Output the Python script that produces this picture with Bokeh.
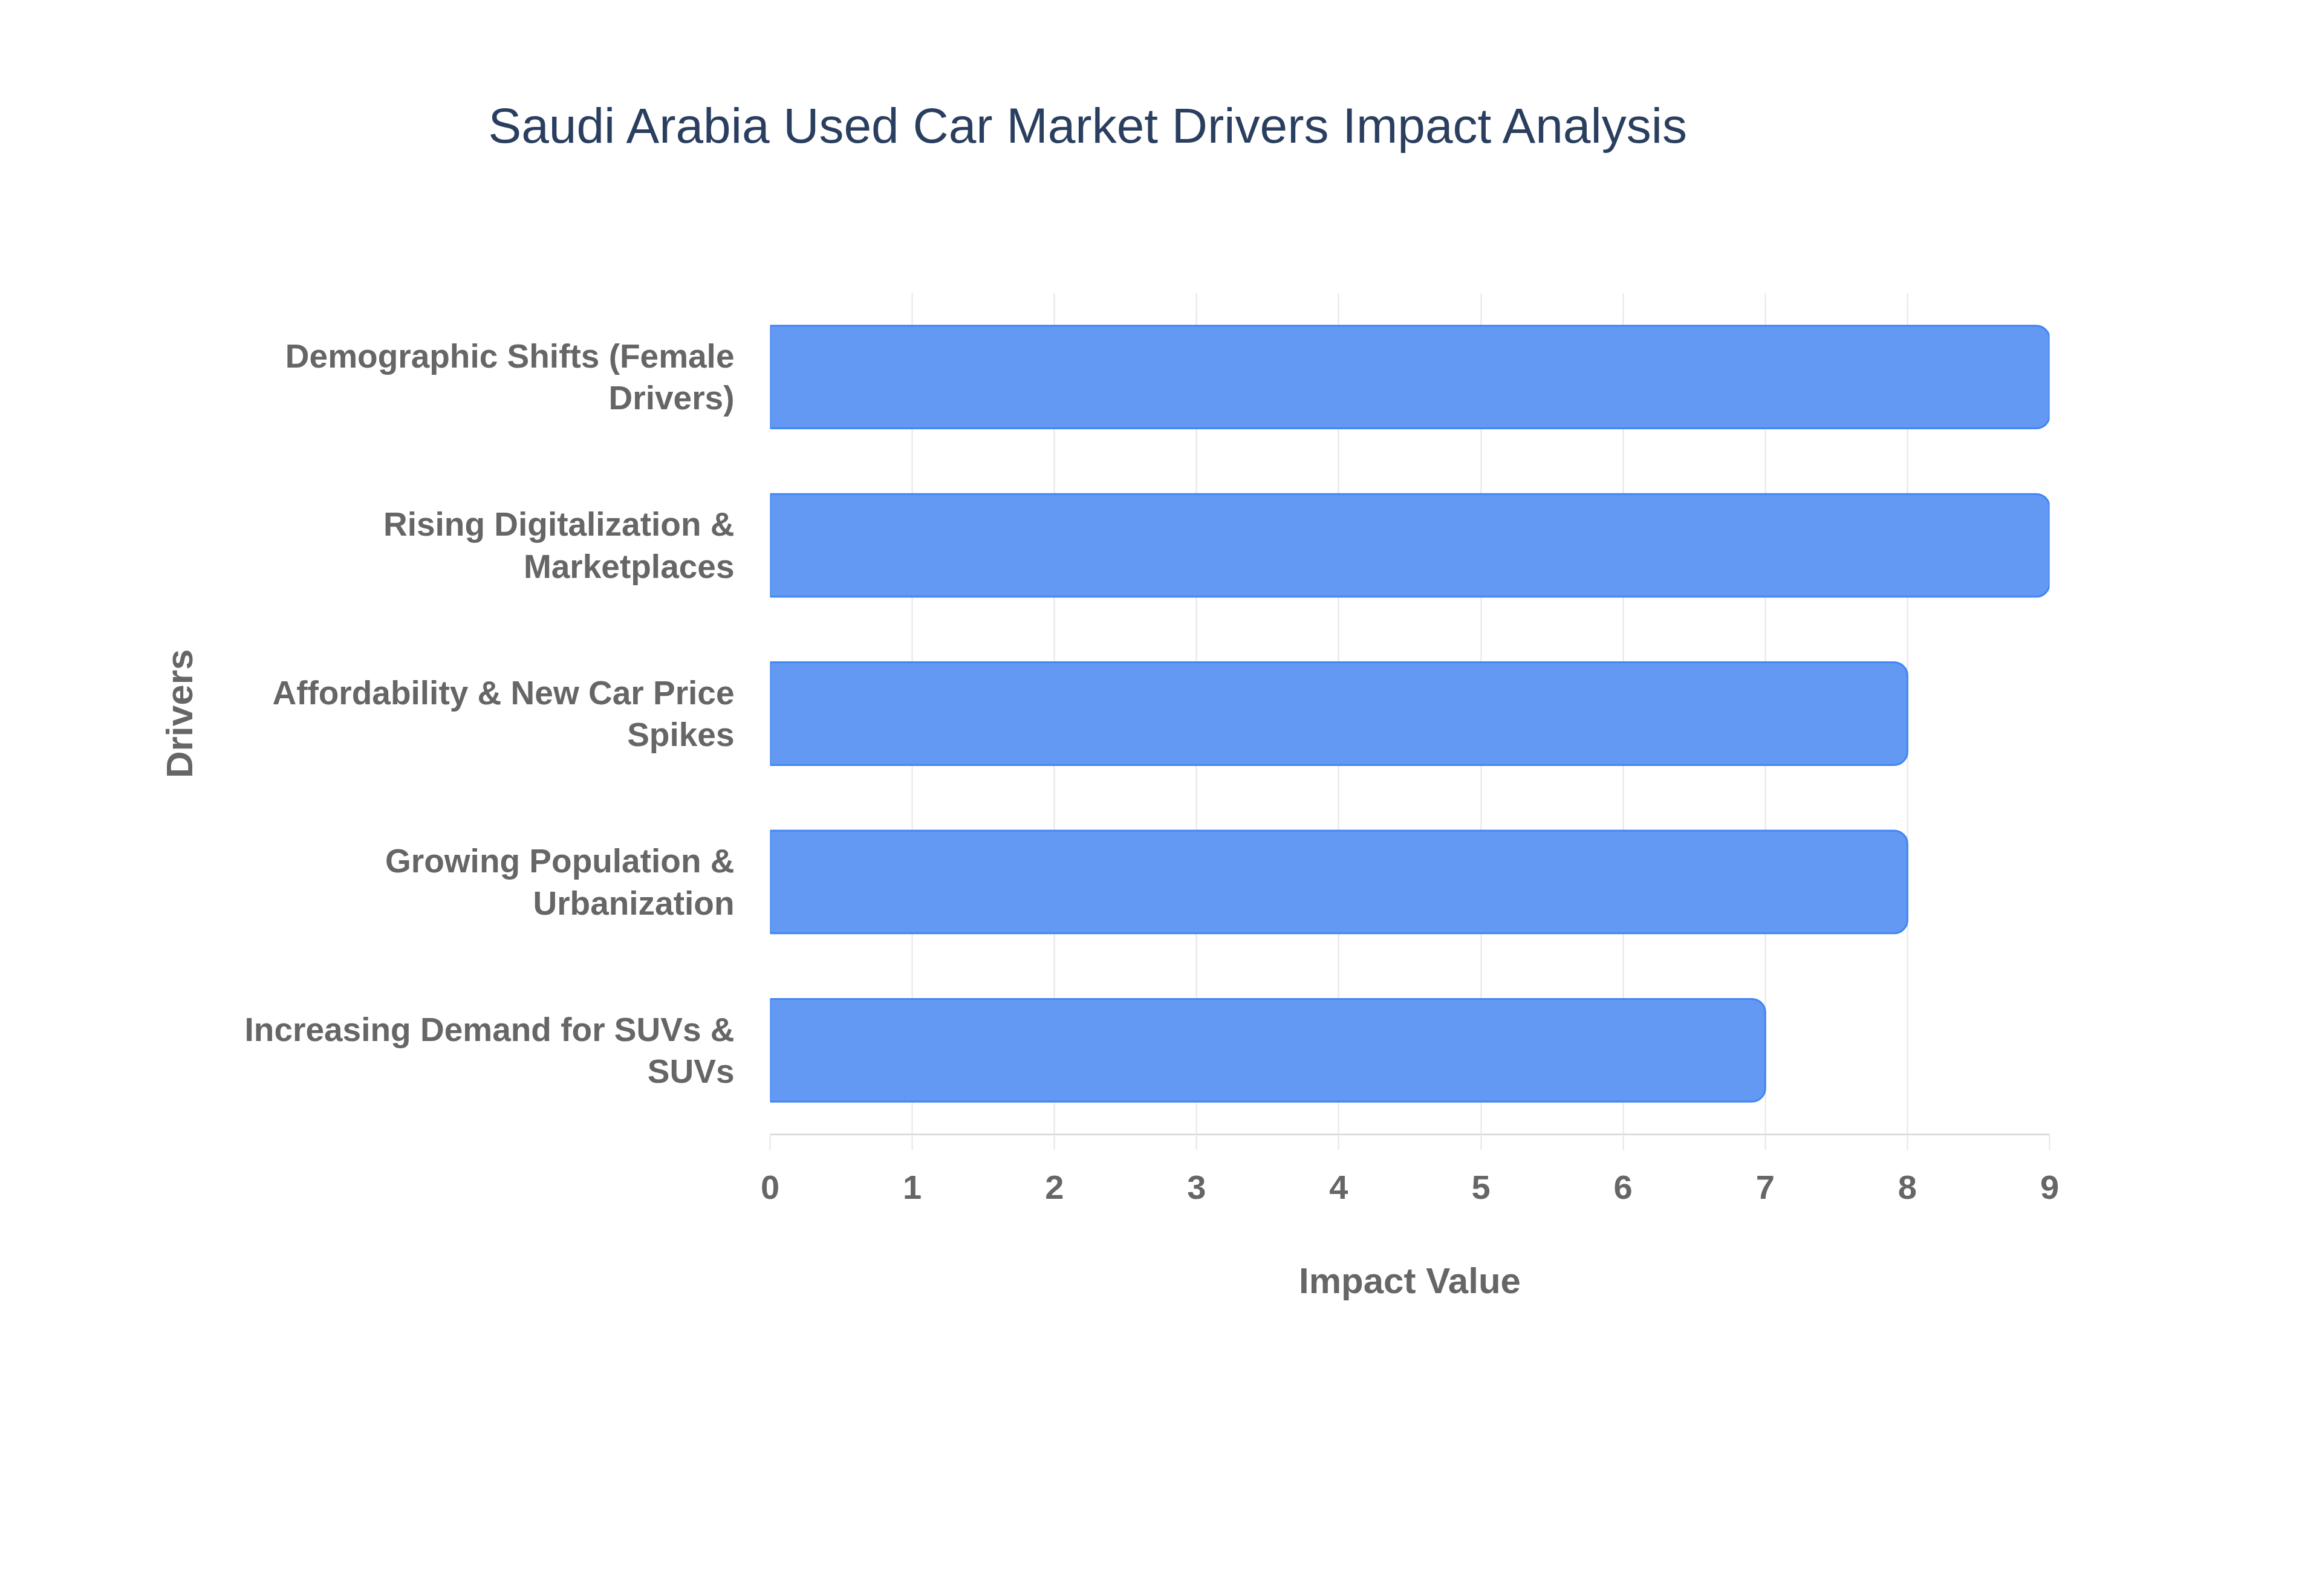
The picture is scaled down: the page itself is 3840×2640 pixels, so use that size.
from bokeh.plotting import figure
from bokeh.models import FactorRange, Range1d, FixedTicker, Title
from bokeh.embed import file_html
from bokeh.resources import INLINE

# ---- data ----
drivers = [
    "Demographic Shifts (Female\nDrivers)",
    "Rising Digitalization &\nMarketplaces",
    "Affordability & New Car Price\nSpikes",
    "Growing Population &\nUrbanization",
    "Increasing Demand for SUVs &\nSUVs",
]
impact = [9, 9, 8, 8, 7]
x_ticks = [0, 1, 2, 3, 4, 5, 6, 7, 8, 9]
title_text = "Saudi Arabia Used Car Market Drivers Impact Analysis"

# ---- layout (page pixels) ----
FL, FW, FT, FH = 1273, 2116, 484, 1392
W, H = 3824, 2624

p = figure(
    frame_width=FW, frame_height=FH,
    min_border_left=FL, min_border_right=W - FL - FW,
    min_border_top=FT, min_border_bottom=H - FT - FH,
    y_range=FactorRange(factors=list(reversed(drivers))),
    x_range=Range1d(0, 9),
    title_location=None,
    output_backend="svg", toolbar_location=None,
)
p.outline_line_color = None
p.background_fill_color = "white"
p.border_fill_color = "white"

p.hbar(y=drivers, left=0, right=impact, height=0.61,
       fill_color="#6399F3", line_color="#4285F4", line_width=3,
       border_radius=(0, 22, 22, 0))

# spacer between frame and title (closest to the frame), then the title
p.add_layout(Title(text=" ", text_font_size="10px", standoff=214), "above")
p.add_layout(Title(
    text=title_text, align="left", offset=807 - FL, standoff=10,
    text_font="Liberation Sans", text_font_style="normal",
    text_font_size="82px", text_color="#2a3f5f",
), "above")

# grid
p.xgrid.ticker = FixedTicker(ticks=x_ticks)
p.xgrid.grid_line_color = "#e6e6e6"
p.xgrid.grid_line_width = 2
p.ygrid.grid_line_color = None

# x axis
xa = p.xaxis[0]
xa.ticker = FixedTicker(ticks=x_ticks)
xa.axis_line_color = "#dcdcdc"
xa.axis_line_width = 3
xa.major_tick_out = 26
xa.major_tick_in = 0
xa.major_tick_line_color = "#e6e6e6"
xa.major_tick_line_width = 2
xa.minor_tick_line_color = None
xa.major_label_text_font = "Liberation Sans"
xa.major_label_text_font_style = "bold"
xa.major_label_text_font_size = "56px"
xa.major_label_text_color = "#666666"
xa.major_label_standoff = 42
xa.axis_label = "Impact Value"
xa.axis_label_text_font = "Liberation Sans"
xa.axis_label_text_font_style = "bold"
xa.axis_label_text_font_size = "60px"
xa.axis_label_text_color = "#666666"
xa.axis_label_standoff = 99

# y axis
ya = p.yaxis[0]
ya.axis_line_color = None
ya.major_tick_line_color = None
ya.minor_tick_line_color = None
ya.major_label_text_font = "Liberation Sans"
ya.major_label_text_font_style = "bold"
ya.major_label_text_font_size = "55px"
ya.major_label_text_color = "#666666"
ya.major_label_text_line_height = 1.12
ya.major_label_standoff = 53
ya.axis_label = "Drivers"
ya.axis_label_text_font = "Liberation Sans"
ya.axis_label_text_font_style = "bold"
ya.axis_label_text_font_size = "62px"
ya.axis_label_text_color = "#666666"
ya.axis_label_standoff = 71

open("out.html", "w").write(file_html(p, INLINE))
